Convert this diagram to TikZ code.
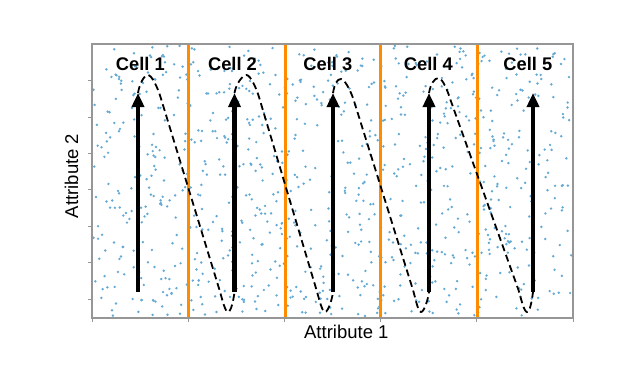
\documentclass[tikz,border=0pt]{standalone}
\usepackage{fontspec}
\setmainfont{Liberation Sans}
\usetikzlibrary{arrows.meta}
\definecolor{dotc}{RGB}{100,170,212}
\definecolor{cutc}{RGB}{255,140,0}
\definecolor{axc}{RGB}{150,150,150}
\tikzset{
  axisline/.style={draw=axc, line width=1.3pt},
  tickline/.style={draw=axc, line width=1pt},
  cutline/.style={draw=cutc, line width=2.2pt},
  scanarrow/.style={draw=black, line width=4.4pt, -{Triangle[width=12pt,length=14pt]}},
  scanpath/.style={draw=black, line width=1.8pt, dash pattern=on 7pt off 4pt},
  celllabel/.style={anchor=base, inner sep=0pt, font=\bfseries\fontsize{18.3}{18.3}\selectfont},
  axislabel/.style={anchor=base, inner sep=0pt, font=\fontsize{18.5}{18.5}\selectfont},
  dotmark/.style={fill=dotc}
}
\begin{document}
\begin{tikzpicture}[x=1pt,y=-1pt]
\useasboundingbox (0,0) rectangle (628,370);
% scattered points
\pgfmathsetseed{12345}
\foreach \i in {1,...,950}{
  \pgfmathsetmacro\px{93.5+478*rnd}
  \pgfmathsetmacro\py{45.5+271*rnd}
  \fill[dotmark] (\px,\py) circle (1.35);
}
% cell boundaries
\coordinate (c1t) at (188.5,44); \coordinate (c1b) at (188.5,318);
\coordinate (c2t) at (285.5,44); \coordinate (c2b) at (285.5,318);
\coordinate (c3t) at (380.5,44); \coordinate (c3b) at (380.5,318);
\coordinate (c4t) at (477.5,44); \coordinate (c4b) at (477.5,318);
\draw[cutline] (c1t) -- (c1b);
\draw[cutline] (c2t) -- (c2b);
\draw[cutline] (c3t) -- (c3b);
\draw[cutline] (c4t) -- (c4b);
% frame
\coordinate (fa) at (92,44);
\coordinate (fb) at (573,318);
\draw[axisline] (fa) rectangle (fb);
% ticks
\foreach \tx in {92,188.2,284.4,380.6,476.8,573}{
  \draw[tickline] (\tx,318) -- (\tx,321.7);
}
\foreach \k in {0,...,6}{
  \draw[tickline] (88.3,80.7+36.4*\k) -- (92,80.7+36.4*\k);
}
% arrows (tips t, bottoms b)
\coordinate (b1) at (138,292); \coordinate (t1) at (138,93);
\coordinate (b2) at (234.5,292); \coordinate (t2) at (234.5,93);
\coordinate (b3) at (333,292); \coordinate (t3) at (333,93);
\coordinate (b4) at (429,292); \coordinate (t4) at (429,93);
\coordinate (b5) at (533,292); \coordinate (t5) at (533,93);
% scan path
\draw[scanpath] (t1) .. controls +(1.5,-9) and +(-4,0) .. (148,75)
  .. controls +(4,0) and +(-2.4,-8) .. (160.5,97) -- (219.5,290)
  .. controls +(2.4,8) and +(-3,0) .. (228,312)
  .. controls +(3,0) and +(-1,8) .. (b2);
\draw[scanpath] (t2) .. controls +(1.5,-9) and +(-4,0) .. (246.5,75)
  .. controls +(4,0) and +(-2.4,-8) .. (259,97) -- (316.5,290)
  .. controls +(2.4,8) and +(-3,0) .. (325,312)
  .. controls +(3,0) and +(-1,8) .. (b3);
\draw[scanpath] (t3) .. controls +(1.5,-9) and +(-4,0) .. (341,79)
  .. controls +(4,0) and +(-2.4,-8) .. (354,101) -- (413,290)
  .. controls +(2.4,8) and +(-3,0) .. (421,312)
  .. controls +(3,0) and +(-1,8) .. (b4);
\draw[scanpath] (t4) .. controls +(1.5,-9) and +(-4,0) .. (438.5,78)
  .. controls +(4,0) and +(-2.4,-8) .. (450.5,100) -- (518.5,290)
  .. controls +(2.4,8) and +(-3,0) .. (527,312)
  .. controls +(3,0) and +(-1,8) .. (b5);
\draw[scanarrow] (b1) -- (t1);
\draw[scanarrow] (b2) -- (t2);
\draw[scanarrow] (b3) -- (t3);
\draw[scanarrow] (b4) -- (t4);
\draw[scanarrow] (b5) -- (t5);
% labels
\node[celllabel] (l1) at (140.3,70.7) {Cell 1};
\node[celllabel] (l2) at (232.5,70.7) {Cell 2};
\node[celllabel] (l3) at (327.8,70.7) {Cell 3};
\node[celllabel] (l4) at (428.3,70.7) {Cell 4};
\node[celllabel] (l5) at (527.8,70.7) {Cell 5};
\node[axislabel] (xl) at (346.3,338.3) {Attribute 1};
\node[axislabel, rotate=90] (yl) at (78,176) {Attribute 2};
\end{tikzpicture}
\end{document}
